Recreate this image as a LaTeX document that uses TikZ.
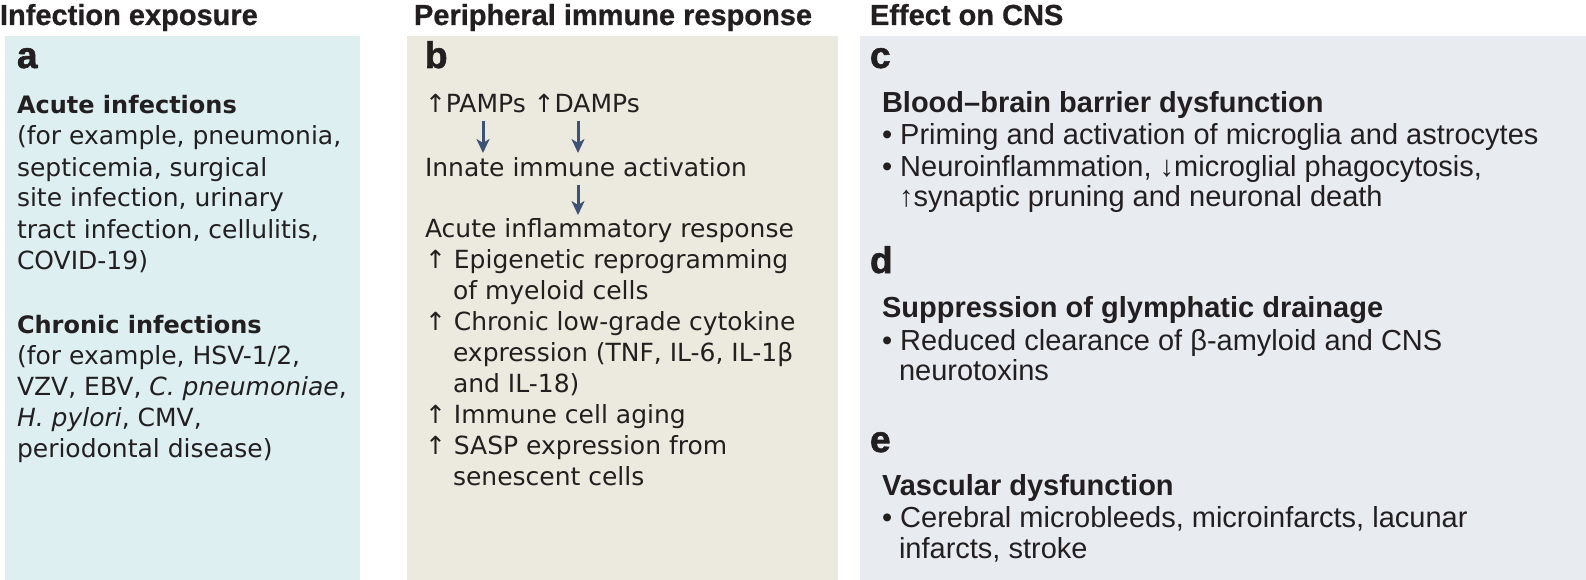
\documentclass[tikz,border=0pt]{standalone}
\usepackage{fontspec}
\setmainfont{DejaVu Sans}
\newfontfamily\hdfont[FakeBold=0.8]{Liberation Sans Bold}
\newfontfamily\lbfont[FakeBold=1.6]{Liberation Sans Bold}
\newfontfamily\cnfont{Liberation Sans}
\usetikzlibrary{arrows.meta}
\definecolor{txt}{HTML}{231F20}
\definecolor{bga}{HTML}{DDEFF1}
\definecolor{bgb}{HTML}{ECE9DE}
\definecolor{bgc}{HTML}{E8EBF0}
\definecolor{arr}{HTML}{3D5274}
\tikzset{
  every node/.style={inner sep=0pt, outer sep=0pt, anchor=base west, text=txt},
  coltitle/.style={font=\hdfont\fontsize{29}{34}\selectfont},
  plabel/.style={font=\lbfont\fontsize{37}{40}\selectfont},
  body/.style={font=\fontsize{25}{31}\selectfont},
  bodyb/.style={font=\bfseries\fontsize{24}{31}\selectfont},
  cbody/.style={font=\cnfont\fontsize{29}{31}\selectfont},
  chead/.style={font=\cnfont\bfseries\fontsize{29}{31}\selectfont},
  flow/.style={draw=arr, line width=3pt, -{Stealth[length=14pt,width=13pt,inset=4pt]}},
}
\begin{document}
\begin{tikzpicture}[x=1pt,y=-1pt]
\useasboundingbox (0,0) rectangle (1586,580);
\fill[white] (0,0) rectangle (1586,580);
% panel backgrounds
\fill[bga] (5,36) rectangle (360,580);
\fill[bgb] (407,36) rectangle (838,580);
\fill[bgc] (860,36) rectangle (1586,580);
% column titles
\node[coltitle] (ta) at (0,25) {Infection exposure};
\node[coltitle] (tb) at (414,25) {Peripheral immune response};
\node[coltitle] (tc) at (870,25) {Effect on CNS};
% panel a
\node[plabel] (la) at (17,68) {a};
\node[bodyb] (a1) at (17,114) {Acute infections};
\node[body] (a2) at (17,145) {(for example, pneumonia,};
\node[body] (a3) at (17,176) {septicemia, surgical};
\node[body] (a4) at (17,207) {site infection, urinary};
\node[body] (a5) at (17,238) {tract infection, cellulitis,};
\node[body] (a6) at (17,269) {COVID-19)};
\node[bodyb] (a7) at (17,333) {Chronic infections};
\node[body] (a8) at (17,364) {(for example, HSV-1/2,};
\node[body] (a9) at (17,395) {VZV, EBV, \textit{C. pneumoniae},};
\node[body] (a10) at (17,426) {\textit{H. pylori}, CMV,};
\node[body] (a11) at (17,457) {periodontal disease)};
% panel b
\node[plabel] (lb) at (425,68) {b};
\node[body] (b1) at (425,113) {↑PAMPs ↑DAMPs};
\node[body] (b2) at (425,177) {Innate immune activation};
\node[body] (b3) at (425,237) {Acute inflammatory response};
\node[body] (b4) at (425,268) {↑ Epigenetic reprogramming};
\node[body] (b5) at (453,299) {of myeloid cells};
\node[body] (b6) at (425,330) {↑ Chronic low-grade cytokine};
\node[body] (b7) at (453,361) {expression (TNF, IL-6, IL-1β};
\node[body] (b8) at (453,392) {and IL-18)};
\node[body] (b9) at (425,423) {↑ Immune cell aging};
\node[body] (b10) at (425,454) {↑ SASP expression from};
\node[body] (b11) at (453,485) {senescent cells};
\coordinate (r1s) at (483,121);
\coordinate (r1e) at (483,153);
\coordinate (r2s) at (578,121);
\coordinate (r2e) at (578,153);
\coordinate (r3s) at (578,185);
\coordinate (r3e) at (578,215);
\draw[flow] (r1s) -- (r1e);
\draw[flow] (r2s) -- (r2e);
\draw[flow] (r3s) -- (r3e);
% panel c
\node[plabel] (lc) at (870,68) {c};
\node[chead] (c1) at (882,113) {Blood–brain barrier dysfunction};
\node[cbody] (c2) at (882,145) {• Priming and activation of microglia and astrocytes};
\node[cbody] (c3) at (882,176) {• Neuroinflammation, ↓microglial phagocytosis,};
\node[cbody] (c4) at (899,207) {↑synaptic pruning and neuronal death};
\node[plabel] (ld) at (870,273) {d};
\node[chead] (d1) at (882,317) {Suppression of glymphatic drainage};
\node[cbody] (d2) at (882,350) {• Reduced clearance of β-amyloid and CNS};
\node[cbody] (d3) at (899,380) {neurotoxins};
\node[plabel] (le) at (870,452) {e};
\node[chead] (e1) at (882,495) {Vascular dysfunction};
\node[cbody] (e2) at (882,527) {• Cerebral microbleeds, microinfarcts, lacunar};
\node[cbody] (e3) at (899,558) {infarcts, stroke};
\end{tikzpicture}
\end{document}
